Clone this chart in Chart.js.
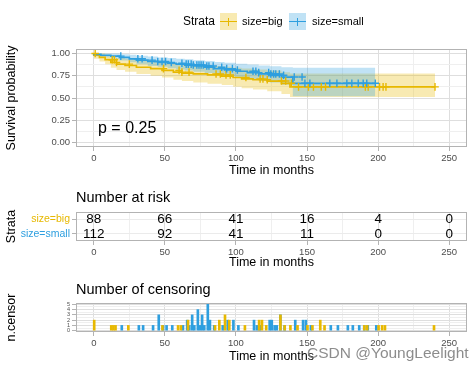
<!DOCTYPE html>
<html>
<head>
<meta charset="utf-8">
<script src="https://cdn.jsdelivr.net/npm/chart.js@4.4.1/dist/chart.umd.min.js"></script>
<style>
  html, body { margin: 0; padding: 0; background: #fff; }
  #wrap { position: relative; width: 474px; height: 369px; overflow: hidden; font-family: "Liberation Sans", Arial, sans-serif; }
  #wrap canvas { position: absolute; left: 0; top: 0; }
  .txt { position: absolute; white-space: nowrap; line-height: 1; color: #000; }
  .key { position: absolute; width: 17px; height: 17px; top: 13px; }
  .key .h { position: absolute; left: 0; top: 7.5px; width: 17px; height: 1.6px; }
  .key .v { position: absolute; left: 7.7px; top: 4.5px; width: 1.6px; height: 8px; }
</style>
</head>
<body>
<div id="wrap">
  <canvas id="surv" width="474" height="369"></canvas>
  <canvas id="risk" width="474" height="369"></canvas>
  <canvas id="cens" width="474" height="369"></canvas>

  <div class="txt" style="left:183px; top:15px; font-size:12px;">Strata</div>
  <div class="key" style="left:220px; background:rgba(231,184,0,0.3);"><div class="h" style="background:#E7B800"></div><div class="v" style="background:#E7B800"></div></div>
  <div class="txt" style="left:242px; top:16px; font-size:11px;">size=big</div>
  <div class="key" style="left:289px; background:rgba(46,159,223,0.3);"><div class="h" style="background:#2E9FDF"></div><div class="v" style="background:#2E9FDF"></div></div>
  <div class="txt" style="left:312px; top:16px; font-size:11px;">size=small</div>

  <div class="txt" style="left:98px; top:120px; font-size:16px;">p = 0.25</div>
  <div class="txt" style="left:76px; top:190px; font-size:14.5px;">Number at risk</div>
  <div class="txt" style="left:76px; top:282px; font-size:14.5px;">Number of censoring</div>
  <div class="txt" style="left:307px; top:345px; font-size:15.5px; color:rgba(120,120,120,0.85);">CSDN @YoungLeelight</div>
</div>

<script>
const colBig = '#E7B800';
const colSmall = '#2E9FDF';
const bandBig = 'rgba(231,184,0,0.3)';
const bandSmall = 'rgba(46,159,223,0.3)';
const strata = ['size=big', 'size=small'];

// Kaplan-Meier steps, size=big
const bigTimes = [0, 4, 8, 12, 16, 22, 30, 40, 48, 56, 62, 70, 80, 90, 98, 104, 112, 122, 132, 138, 142, 240];
const bigSurv  = [1, 0.98, 0.955, 0.93, 0.9, 0.88, 0.865, 0.845, 0.83, 0.81, 0.79, 0.78, 0.77, 0.76, 0.745, 0.73, 0.715, 0.705, 0.69, 0.665, 0.625, 0.625];
const bigLower = [1, 0.94, 0.91, 0.88, 0.84, 0.815, 0.795, 0.77, 0.75, 0.73, 0.705, 0.69, 0.675, 0.66, 0.645, 0.625, 0.61, 0.595, 0.575, 0.545, 0.51, 0.51];
const bigUpper = [1, 1, 1, 0.985, 0.965, 0.95, 0.94, 0.925, 0.915, 0.9, 0.885, 0.875, 0.87, 0.86, 0.85, 0.84, 0.83, 0.82, 0.81, 0.79, 0.775, 0.775];

// Kaplan-Meier steps, size=small
const smallTimes = [0, 5, 12, 18, 25, 30, 38, 45, 52, 58, 64, 70, 78, 85, 92, 100, 108, 116, 124, 132, 140, 148, 198];
const smallSurv  = [1, 0.99, 0.98, 0.97, 0.955, 0.94, 0.925, 0.91, 0.9, 0.89, 0.88, 0.87, 0.86, 0.845, 0.83, 0.815, 0.8, 0.785, 0.77, 0.755, 0.735, 0.665, 0.665];
const smallLower = [1, 0.97, 0.955, 0.94, 0.92, 0.9, 0.88, 0.86, 0.85, 0.835, 0.82, 0.81, 0.795, 0.78, 0.76, 0.745, 0.725, 0.71, 0.69, 0.675, 0.65, 0.52, 0.52];
const smallUpper = [1, 1, 1, 1, 0.99, 0.985, 0.975, 0.965, 0.955, 0.95, 0.94, 0.935, 0.925, 0.915, 0.905, 0.895, 0.885, 0.875, 0.865, 0.855, 0.845, 0.84, 0.84];

// censoring times and counts
const bigCensorTimes  = [1, 13, 14.5, 16, 25, 49, 60, 62, 67, 86, 89, 93, 96, 107, 117, 119, 122, 132, 135, 139, 144, 151, 154.5, 160, 163, 191, 193, 201, 203.5, 205.5, 240];
const bigCensorCounts = [2, 1, 1, 1, 1, 1, 1, 1, 2, 1, 2, 3, 2, 1, 2, 2, 1, 3, 1, 1, 1, 1, 1, 2, 1, 1, 1, 1, 1, 1, 1];
const smallCensorTimes  = [19, 31, 34, 41, 45, 48, 50.5, 54.5, 62, 65, 66.5, 68.5, 70, 72.5, 74, 75.5, 77, 79.5, 81, 84, 90, 93.5, 97.5, 101, 112, 114, 116, 123, 124.5, 126.5, 128, 130.5, 133.5, 141, 146.5, 148.5, 152, 166, 171, 178, 181.5, 186, 189.5, 192, 198];
const smallCensorCounts = [1, 1, 1, 1, 3, 1, 1, 1, 1, 2, 1, 3, 1, 4, 1, 3, 1, 5, 2, 1, 1, 2, 2, 1, 2, 1, 1, 2, 2, 1, 1, 3, 1, 2, 2, 2, 1, 1, 1, 1, 1, 1, 1, 1, 1];

// number at risk
const riskTimes = [0, 50, 100, 150, 200, 250];
const riskBig   = [88, 66, 41, 16, 4, 0];
const riskSmall = [112, 92, 41, 11, 0, 0];

// axis ticks
const xLabels = [0, 50, 100, 150, 200, 250];
const xGrid = [0, 25, 50, 75, 100, 125, 150, 175, 200, 225, 250];
const survLabels = [0, 0.25, 0.5, 0.75, 1];
const survGrid = [0, 0.125, 0.25, 0.375, 0.5, 0.625, 0.75, 0.875, 1];
const censLabels = [0, 1, 2, 3, 4, 5];
const censGrid = [0, 0.5, 1, 1.5, 2, 2.5, 3, 3.5, 4, 4.5, 5];

Chart.defaults.font.family = '"Liberation Sans", Arial, sans-serif';
Chart.defaults.animation = false;

const panelBorder = {
  id: 'panelBorder',
  afterDraw(chart) {
    const { ctx, chartArea: a } = chart;
    ctx.save();
    ctx.strokeStyle = '#B3B3B3';
    ctx.lineWidth = 1;
    ctx.strokeRect(Math.round(a.left) + 0.5, Math.round(a.top) + 0.5, Math.round(a.right - a.left) - 1, Math.round(a.bottom - a.top) - 1);
    ctx.restore();
  }
};

const cellText = {
  id: 'cellText',
  afterDatasetsDraw(chart) {
    const ctx = chart.ctx;
    ctx.save();
    ctx.font = '13.5px "Liberation Sans", Arial, sans-serif';
    ctx.fillStyle = '#000';
    ctx.textAlign = 'center';
    ctx.textBaseline = 'middle';
    chart.data.datasets.forEach((ds, di) => {
      chart.getDatasetMeta(di).data.forEach((pt, i) => ctx.fillText(String(ds.counts[i]), pt.x, pt.y + 0.5));
    });
    ctx.restore();
  }
};

function survAt(times, surv, t) {
  let s = surv[0];
  for (let i = 0; i < times.length; i++) if (times[i] <= t) s = surv[i];
  return s;
}

function isMajor(list, v) { return list.some(m => Math.abs(m - v) < 1e-9); }

function gridOpts(labels) {
  return {
    color: c => (c.tick && isMajor(labels, c.tick.value)) ? '#DEDEDE' : '#EFEFEF',
    lineWidth: 1,
    offset: false,
    tickColor: c => (c.tick && isMajor(labels, c.tick.value)) ? '#B3B3B3' : 'rgba(0,0,0,0)',
    tickLength: 4
  };
}

function xAxis(height) {
  return {
    type: 'linear', min: -12.5, max: 262.5, offset: false,
    afterBuildTicks: s => { s.ticks = xGrid.map(v => ({ value: v })); },
    afterFit: s => { s.height = height; },
    ticks: { callback: v => isMajor(xLabels, v) ? String(v) : '', color: '#4D4D4D', font: { size: 9.5 }, padding: 1.5, maxRotation: 0, autoSkip: false },
    grid: gridOpts(xLabels),
    border: { display: false },
    title: { display: true, text: 'Time in months', color: '#000', font: { size: 12.5 }, padding: 0 }
  };
}

function yTitle(text) {
  return { display: true, text: text, color: '#000', font: { size: 12.5 }, padding: { top: 4.5, bottom: 0 } };
}

const baseOpts = {
  responsive: false,
  devicePixelRatio: 1,
  plugins: { legend: { display: false }, tooltip: { enabled: false } }
};

// survival curves
const lineDs = (times, surv, color) => ({
  data: times.map((t, i) => ({ x: t, y: surv[i] })),
  borderColor: color, borderWidth: 1.7, stepped: 'after', pointRadius: 0, fill: false
});
const bandDs = (times, vals, color, fill) => ({
  data: times.map((t, i) => ({ x: t, y: vals[i] })),
  borderWidth: 0, borderColor: 'rgba(0,0,0,0)', backgroundColor: color,
  stepped: 'after', pointRadius: 0, fill: fill ? '-1' : false
});
const markDs = (ctimes, times, surv, color) => ({
  data: ctimes.map(t => ({ x: t, y: survAt(times, surv, t) })),
  showLine: false, pointStyle: 'cross', pointRadius: 3.8,
  borderColor: color, pointBorderColor: color, pointBorderWidth: 1.4, borderWidth: 1.4
});

new Chart(document.getElementById('surv'), {
  type: 'line',
  data: {
    datasets: [
      markDs(smallCensorTimes, smallTimes, smallSurv, colSmall),
      markDs(bigCensorTimes, bigTimes, bigSurv, colBig),
      lineDs(smallTimes, smallSurv, colSmall),
      lineDs(bigTimes, bigSurv, colBig),
      bandDs(smallTimes, smallLower, bandSmall, false),
      bandDs(smallTimes, smallUpper, bandSmall, true),
      bandDs(bigTimes, bigLower, bandBig, false),
      bandDs(bigTimes, bigUpper, bandBig, true)
    ]
  },
  options: {
    ...baseOpts,
    layout: { autoPadding: false, padding: { top: 49, bottom: 190.5, left: 0, right: 7 } },
    scales: {
      x: xAxis(31.5),
      y: {
        min: -0.05, max: 1.05,
        afterBuildTicks: s => { s.ticks = survGrid.map(v => ({ value: v })); },
        afterFit: s => { s.width = 76; },
        ticks: { callback: v => isMajor(survLabels, v) ? v.toFixed(2) : '', color: '#4D4D4D', font: { size: 9.5 }, padding: 2, autoSkip: false },
        grid: gridOpts(survLabels),
        border: { display: false },
        title: yTitle('Survival probability')
      }
    }
  },
  plugins: [panelBorder]
});

// number at risk table
new Chart(document.getElementById('risk'), {
  type: 'line',
  data: {
    datasets: [
      { data: riskTimes.map(t => ({ x: t, y: strata[0] })), counts: riskBig, showLine: false, pointRadius: 0 },
      { data: riskTimes.map(t => ({ x: t, y: strata[1] })), counts: riskSmall, showLine: false, pointRadius: 0 }
    ]
  },
  options: {
    ...baseOpts,
    layout: { autoPadding: false, padding: { top: 212, bottom: 98.5, left: 0, right: 7 } },
    scales: {
      x: xAxis(29.5),
      y: {
        type: 'category', labels: strata, offset: true,
        afterFit: s => { s.width = 76; },
        ticks: { color: c => c.index === 0 ? colBig : colSmall, font: { size: 10.5 }, padding: 2, autoSkip: false },
        grid: { color: '#EBEBEB', offset: false, tickColor: '#B3B3B3', tickLength: 4 },
        border: { display: false },
        title: yTitle('Strata')
      }
    }
  },
  plugins: [panelBorder, cellText]
});

// number of censoring
new Chart(document.getElementById('cens'), {
  type: 'bar',
  data: {
    datasets: [
      { data: bigCensorTimes.map((t, i) => ({ x: t, y: bigCensorCounts[i] })), backgroundColor: colBig, barThickness: 2 },
      { data: smallCensorTimes.map((t, i) => ({ x: t, y: smallCensorCounts[i] })), backgroundColor: colSmall, barThickness: 2 }
    ]
  },
  options: {
    ...baseOpts,
    layout: { autoPadding: false, padding: { top: 303, bottom: 4.5, left: 0, right: 7 } },
    scales: {
      x: xAxis(32.5),
      y: {
        min: -0.25, max: 5.25,
        afterBuildTicks: s => { s.ticks = censGrid.map(v => ({ value: v })); },
        afterFit: s => { s.width = 76; },
        ticks: { callback: v => isMajor(censLabels, v) ? String(v) : '', color: '#4D4D4D', font: { size: 5.5 }, padding: 2, autoSkip: false },
        grid: gridOpts(censLabels),
        border: { display: false },
        title: yTitle('n.censor')
      }
    }
  },
  plugins: [panelBorder]
});
</script>
</body>
</html>
